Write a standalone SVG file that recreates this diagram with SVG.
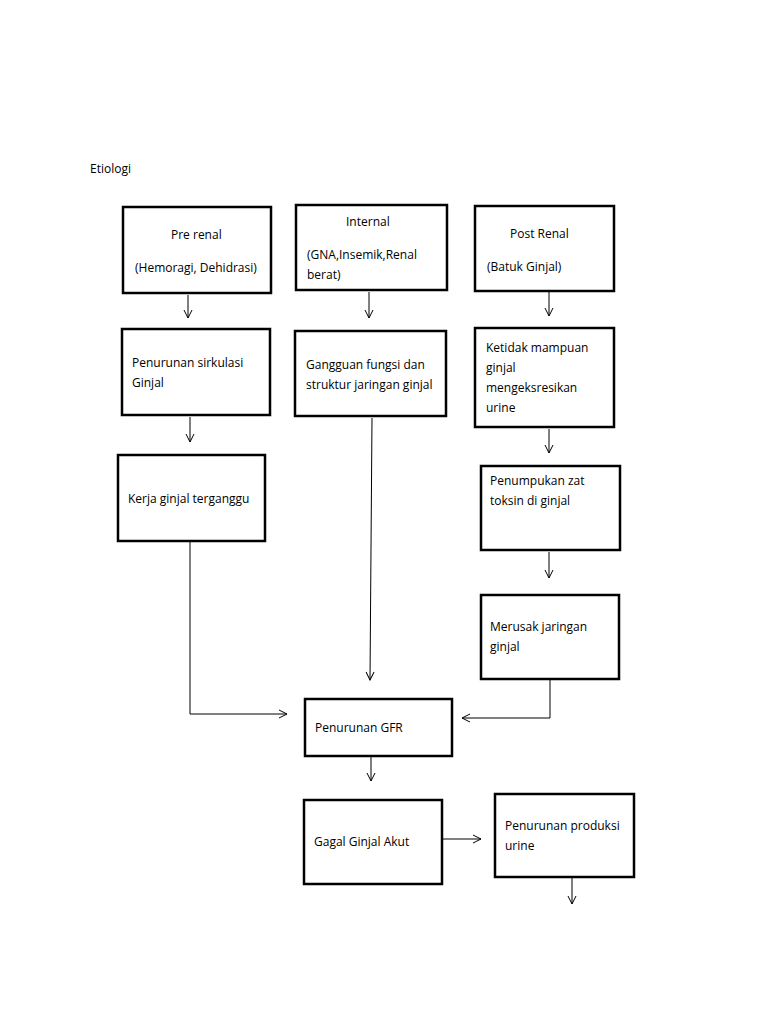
<svg xmlns="http://www.w3.org/2000/svg" width="768" height="1024" viewBox="0 0 768 1024">
<style>
.b{fill:#fff;stroke:#000;stroke-width:2.5}
text{font-family:"Open Sans","Liberation Sans",sans-serif;font-size:12px;fill:#000}
.c line,.c polyline{stroke:#000;stroke-width:1;fill:none;marker-end:url(#a)}
</style>
<defs><marker id="a" markerWidth="10" markerHeight="10" refX="9" refY="5" orient="auto" markerUnits="userSpaceOnUse"><path d="M1,1 L9,5 L1,9" fill="none" stroke="#000"/></marker></defs>
<rect width="768" height="1024" fill="#fff"/>
<text x="90" y="173">Etiologi</text>
<g id="n1"><rect class="b" x="123" y="207" width="148" height="86"/><text x="171" y="239">Pre renal</text><text x="135" y="272">(Hemoragi, Dehidrasi)</text></g>
<g id="n2"><rect class="b" x="296" y="205" width="151" height="85"/><text x="346" y="226">Internal</text><text x="307" y="259">(GNA,Insemik,Renal</text><text x="307" y="279">berat)</text></g>
<g id="n3"><rect class="b" x="475" y="206" width="139" height="85"/><text x="510" y="238">Post Renal</text><text x="487" y="271">(Batuk Ginjal)</text></g>
<g id="n4"><rect class="b" x="122" y="329" width="148" height="86"/><text x="132" y="367">Penurunan sirkulasi</text><text x="132" y="387">Ginjal</text></g>
<g id="n5"><rect class="b" x="295" y="331" width="151" height="85"/><text x="306" y="369">Gangguan fungsi dan</text><text x="306" y="389">struktur jaringan ginjal</text></g>
<g id="n6"><rect class="b" x="475" y="328" width="139" height="99"/><text x="486" y="352">Ketidak mampuan</text><text x="486" y="372">ginjal</text><text x="486" y="392">mengeksresikan</text><text x="486" y="412">urine</text></g>
<g id="n7"><rect class="b" x="118" y="455" width="147" height="86"/><text x="128" y="503">Kerja ginjal terganggu</text></g>
<g id="n8"><rect class="b" x="481" y="466" width="139" height="84"/><text x="490" y="485">Penumpukan zat</text><text x="490" y="505">toksin di ginjal</text></g>
<g id="n9"><rect class="b" x="481" y="595" width="138" height="84"/><text x="490" y="631">Merusak jaringan</text><text x="490" y="651">ginjal</text></g>
<g id="n10"><rect class="b" x="305" y="699" width="147" height="57"/><text x="315" y="732">Penurunan GFR</text></g>
<g id="n11"><rect class="b" x="304" y="800" width="138" height="84"/><text x="314" y="846">Gagal Ginjal Akut</text></g>
<g id="n12"><rect class="b" x="495" y="794" width="139" height="83"/><text x="505" y="830">Penurunan produksi</text><text x="505" y="850">urine</text></g>
<g class="c">
<line x1="188" y1="295" x2="188" y2="318"/>
<line x1="369" y1="292" x2="369" y2="318"/>
<line x1="549" y1="292" x2="549" y2="316"/>
<line x1="190" y1="417" x2="190" y2="442"/>
<line x1="549" y1="429" x2="549" y2="453"/>
<line x1="549" y1="552" x2="549" y2="578"/>
<line x1="372" y1="418" x2="370" y2="680"/>
<polyline points="190,542 190,714 287,714"/>
<polyline points="550,680 550,718 462,718"/>
<line x1="371" y1="757" x2="371" y2="781"/>
<line x1="443" y1="839" x2="481" y2="839"/>
<line x1="572" y1="878" x2="572" y2="904"/>
</g>
</svg>
